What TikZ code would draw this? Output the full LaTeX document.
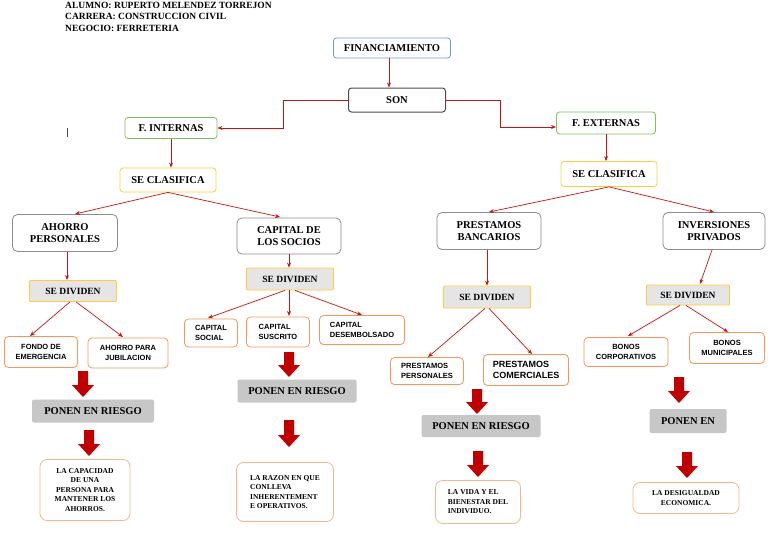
\documentclass[tikz,border=0pt]{standalone}
\usepackage{fontspec}
\setmainfont{Liberation Serif}
\newfontfamily\sansf{Liberation Sans}
\usetikzlibrary{arrows.meta}
\definecolor{ared}{RGB}{200,20,20}
\definecolor{dred}{RGB}{192,0,0}
\definecolor{borange}{RGB}{245,150,90}
\definecolor{byellow}{RGB}{255,205,60}
\definecolor{bgreen}{RGB}{130,190,90}
\definecolor{bblue}{RGB}{110,150,220}
\newcommand\fatarr[3]{\fill[dred] (#1-5,#2) -- (#1+5,#2) -- (#1+5,#3-12) -- (#1+11,#3-12) -- (#1,#3) -- (#1-11,#3-12) -- (#1-5,#3-12) -- cycle;}
\begin{document}
\begin{tikzpicture}[x=1pt,y=-1pt,
 box/.style={draw,rounded corners=3pt,line width=0.8pt,fill=white,font=\bfseries\fontsize{10.5}{11}\selectfont,align=center,inner sep=0pt},
 top/.style={box,draw=bblue},
 son/.style={box,draw=black!70,line width=1pt},
 fin/.style={box,draw=bgreen},
 cla/.style={box,draw=byellow},
 cat/.style={box,draw=black!45,rounded corners=5pt,font=\bfseries\fontsize{10.5}{12}\selectfont},
 div/.style={box,draw=byellow,fill=black!10,rounded corners=1pt,font=\bfseries\fontsize{9.5}{10}\selectfont},
 leaf/.style={box,draw=borange,rounded corners=4pt,font=\sansf\bfseries\fontsize{7.5}{9.5}\selectfont},
 risk/.style={box,draw=none,fill=black!22,rounded corners=2pt,font=\bfseries\fontsize{10.5}{11}\selectfont},
 res/.style={box,draw=borange!70,rounded corners=7pt,font=\bfseries\fontsize{7.5}{9.5}\selectfont},
 arr/.style={ared,line width=0.7pt,-{Stealth[length=5pt,width=4pt]}}]
\useasboundingbox (0,0) rectangle (768,543);
\node[anchor=north west,align=left,font=\bfseries\fontsize{9.5}{11.5}\selectfont,inner sep=0pt] (hdr) at (65,2) {ALUMNO: RUPERTO MELENDEZ TORREJON\\CARRERA: CONSTRUCCION CIVIL\\NEGOCIO: FERRETERIA};
\draw[black!70,line width=0.6pt] (67,128) -- (67,137);
\node[top,minimum width=117,minimum height=20] (F) at (392,48) {FINANCIAMIENTO};
\node[son,minimum width=97,minimum height=24] (S) at (397,100) {SON};
\node[fin,minimum width=92,minimum height=21] (FI) at (171,128) {F. INTERNAS};
\node[fin,minimum width=99,minimum height=22] (FE) at (606,123) {F. EXTERNAS};
\node[cla,minimum width=96,minimum height=24] (CL) at (168,180) {SE CLASIFICA};
\node[cla,minimum width=96,minimum height=25] (CR) at (609,174) {SE CLASIFICA};
\node[cat,minimum width=105,minimum height=37] (A) at (65,233) {AHORRO\\PERSONALES};
\node[cat,minimum width=104,minimum height=36] (C) at (289,236) {CAPITAL DE\\LOS SOCIOS};
\node[cat,minimum width=104,minimum height=37] (P) at (489,231) {PRESTAMOS\\BANCARIOS};
\node[cat,minimum width=102,minimum height=37] (I) at (714,231) {INVERSIONES\\PRIVADOS};
\node[div,minimum width=87,minimum height=21] (D1) at (73,291) {SE DIVIDEN};
\node[div,minimum width=87,minimum height=22] (D2) at (290,279) {SE DIVIDEN};
\node[div,minimum width=87,minimum height=22] (D3) at (487,297) {SE DIVIDEN};
\node[div,minimum width=83,minimum height=20] (D4) at (688,295) {SE DIVIDEN};
\node[leaf,minimum width=73,minimum height=31] (L1) at (41,352) {FONDO DE\\EMERGENCIA};
\node[leaf,minimum width=80,minimum height=30] (L2) at (128,353) {AHORRO PARA\\JUBILACION};
\node[leaf,minimum width=53,minimum height=28,align=left] (L3) at (211,333) {CAPITAL\\SOCIAL};
\node[leaf,minimum width=63,minimum height=30,align=left] (L4) at (278,332) {CAPITAL\\SUSCRITO};
\node[leaf,minimum width=85,minimum height=29,align=left] (L5) at (362,330) {CAPITAL\\DESEMBOLSADO};
\node[leaf,minimum width=73,minimum height=27,align=left] (L6) at (427,371) {PRESTAMOS\\PERSONALES};
\node[leaf,minimum width=85,minimum height=31,align=left,font=\sansf\bfseries\fontsize{9}{11}\selectfont] (L7) at (526,370) {PRESTAMOS\\COMERCIALES};
\node[leaf,minimum width=84,minimum height=29] (L8) at (626,352) {BONOS\\CORPORATIVOS};
\node[leaf,minimum width=75,minimum height=31] (L9) at (727,348) {BONOS\\MUNICIPALES};
\node[risk,minimum width=122,minimum height=23] (R1) at (93,411) {PONEN EN RIESGO};
\node[risk,minimum width=119,minimum height=23] (R2) at (297,391) {PONEN EN RIESGO};
\node[risk,minimum width=119,minimum height=22] (R3) at (481,426) {PONEN EN RIESGO};
\node[risk,minimum width=77,minimum height=24] (R4) at (688,421) {PONEN EN};
\node[res,minimum width=90,minimum height=61] (E1) at (85,490) {LA CAPACIDAD\\DE UNA\\PERSONA PARA\\MANTENER LOS\\AHORROS.};
\node[res,minimum width=97,minimum height=59,align=left] (E2) at (285,492) {LA RAZON EN QUE\\CONLLEVA\\INHERENTEMENT\\E OPERATIVOS.};
\node[res,minimum width=85,minimum height=43,align=left] (E3) at (478,502) {LA VIDA Y EL\\BIENESTAR DEL\\INDIVIDUO.};
\node[res,minimum width=106,minimum height=31] (E4) at (686,498) {LA DESIGUALDAD\\ECONOMICA.};
% thin arrows
\draw[arr] (F.south -| 389,0) -- (S.north -| 389,0);
\draw[arr] (S.west) -- (283,100) -- (283,128) -- (FI.east);
\draw[arr] (S.east) -- (500,100) -- (500,127) -- (FE.west |- 0,127);
\draw[arr] (FI.south) -- (CL.north -| FI.south);
\draw[arr] (FE.south) -- (CR.north -| FE.south);
\draw[arr] (CL.south) -- (75,214);
\draw[arr] (CL.south) -- (280,217);
\draw[arr] (CR.south) -- (489,212);
\draw[arr] (CR.south) -- (714,212);
\draw[arr] (A.south -| 67,0) -- (D1.north -| 67,0);
\draw[arr] (C.south) -- (D2.north -| C.south);
\draw[arr] (P.south -| 487,0) -- (D3.north);
\draw[arr] (I.south -| 712,0) -- (700,284);
\draw[arr] (D1.south -| 70,0) -- (30,336);
\draw[arr] (D1.south -| 76,0) -- (123,337);
\draw[arr] (D2.south -| 285,0) -- (208,318);
\draw[arr] (D2.south -| 289,0) -- (289,316);
\draw[arr] (D2.south -| 295,0) -- (362,315);
\draw[arr] (D3.south -| 485,0) -- (428,357);
\draw[arr] (D3.south -| 489,0) -- (532,354);
\draw[arr] (D4.south -| 680,0) -- (628,336);
\draw[arr] (D4.south -| 686,0) -- (728,332);
% fat arrows
\fatarr{83}{371}{397}
\fatarr{89}{430}{456}
\fatarr{289}{352}{377}
\fatarr{289}{420}{447}
\fatarr{477}{389}{414}
\fatarr{478}{451}{477}
\fatarr{679}{377}{403}
\fatarr{687}{452}{478}
\end{tikzpicture}
\end{document}
